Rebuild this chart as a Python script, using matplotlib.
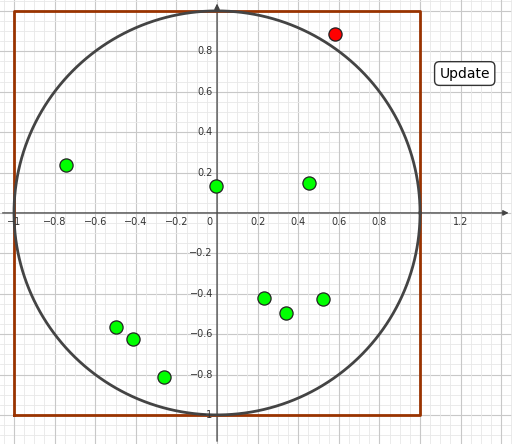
import matplotlib
matplotlib.use("Agg")
import matplotlib.pyplot as plt
import numpy as np

red_x, red_y = [0.58], [0.886]
green_x = [-0.744, -0.005, 0.453, 0.232, 0.34, 0.522, -0.498, -0.414, -0.261]
green_y = [0.238, 0.134, 0.149, -0.421, -0.495, -0.426, -0.564, -0.624, -0.812]
xticks = [-1, -0.8, -0.6, -0.4, -0.2, 0.2, 0.4, 0.6, 0.8, 1.2]
yticks = [-1, -0.8, -0.6, -0.4, -0.2, 0.2, 0.4, 0.6, 0.8]

fig = plt.figure(figsize=(5.12, 4.44), dpi=100)
ax = fig.add_axes([0, 0, 1, 1])
ax.set_xlim(-1.069, 1.453)
ax.set_ylim(-1.144, 1.054)
ax.axis('off')

for v in np.arange(-1.4, 1.6, 0.05):
    major = abs(round(v / 0.2) * 0.2 - v) < 1e-6
    c = '#c8c8c8' if major else '#e8e8e8'
    lw = 0.8 if major else 0.6
    ax.axvline(v, color=c, lw=lw, zorder=0)
    ax.axhline(v, color=c, lw=lw, zorder=0)

ax.annotate('', xy=(1.45, 0), xytext=(-1.07, 0),
            arrowprops=dict(arrowstyle='-|>', color='#444', lw=0.9, mutation_scale=8), zorder=1)
ax.annotate('', xy=(0, 1.05), xytext=(0, -1.144),
            arrowprops=dict(arrowstyle='-|>', color='#444', lw=0.9, mutation_scale=8), zorder=1)
for t in xticks:
    ax.text(t, -0.02, f'{t:g}'.replace('-', '−'), ha='center', va='top', fontsize=7, color='#333')
for t in yticks:
    ax.text(-0.02, t, f'{t:g}'.replace('-', '−'), ha='right', va='center', fontsize=7, color='#333')
ax.text(-0.02, -0.02, '0', ha='right', va='top', fontsize=7, color='#333')

ax.plot([-1, 1, 1, -1, -1], [-1, -1, 1, 1, -1], color='#993300', lw=2, zorder=2)
th = np.linspace(0, 2 * np.pi, 400)
ax.plot(np.cos(th), np.sin(th), color='#444444', lw=2, zorder=2)

ax.scatter(green_x, green_y, s=90, color='#00ff00', edgecolor='#222', lw=0.9, zorder=3)
ax.scatter(red_x, red_y, s=90, color='#ff0000', edgecolor='#222', lw=0.9, zorder=3)

ax.text(1.22, 0.69, 'Update', fontsize=10, ha='center', va='center', zorder=4,
        bbox=dict(boxstyle='round,pad=0.35', fc='white', ec='#333', lw=1))

fig.savefig('out.png', dpi=100)
